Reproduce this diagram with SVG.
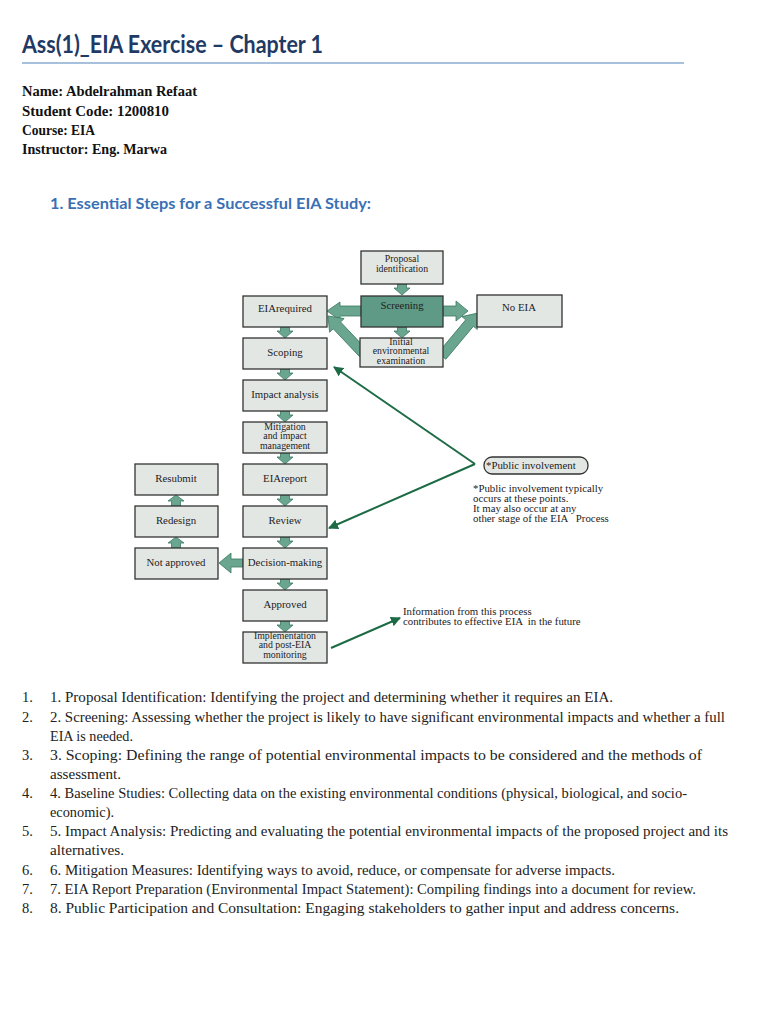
<svg xmlns="http://www.w3.org/2000/svg" width="768" height="1024" viewBox="0 0 768 1024">
<style>
.title{font-family:"Lato","Liberation Sans",sans-serif;font-weight:bold;font-size:24px;fill:#1f3a64}
.info{font-family:"Liberation Serif",serif;font-weight:bold;font-size:14px;fill:#111}
.head{font-family:"Lato","Liberation Sans",sans-serif;font-weight:bold;font-size:16px;fill:#3a70b4}
.li{font-family:"Liberation Serif",serif;font-size:14.5px;fill:#222}
.box{fill:#e2e7e4;stroke:#333;stroke-width:1.3}
.dark{fill:#5e9a85;stroke:#333;stroke-width:1.3}
.bt{font-family:"Liberation Serif",serif;font-size:10.8px;fill:#222;text-anchor:middle}
.bm{font-family:"Liberation Serif",serif;font-size:9.8px;fill:#222;text-anchor:middle}
.nt{font-family:"Liberation Serif",serif;font-size:10.8px;fill:#222}
.ba{fill:#6aa58f;stroke:#3b7a63;stroke-width:0.8}
.gl{stroke:#1d6b45;stroke-width:2;fill:none}
</style>
<defs>
<marker id="ah" viewBox="0 0 10 10" refX="9" refY="5" markerWidth="5" markerHeight="5" orient="auto" markerUnits="strokeWidth">
<path d="M0,0 L10,5 L0,10 Z" fill="#1d6b45"/>
</marker>
<path id="down" d="M-4.5,0 H4.5 V4 H8 L0,11 L-8,4 H-4.5 Z"/>
<path id="up" d="M-4.5,11 V6 H-8 L0,0 L8,6 H4.5 V11 Z"/>
</defs>
<rect width="768" height="1024" fill="#ffffff"/>

<text class="title" x="22" y="53" textLength="301" lengthAdjust="spacingAndGlyphs">Ass(1)_EIA Exercise – Chapter 1</text>
<line x1="22" y1="63" x2="684" y2="63" stroke="#4f81bd" stroke-width="1"/>
<text class="info" x="22" y="96" textLength="175" lengthAdjust="spacingAndGlyphs">Name: Abdelrahman Refaat</text>
<text class="info" x="22" y="116" textLength="147" lengthAdjust="spacingAndGlyphs">Student Code: 1200810</text>
<text class="info" x="22" y="135" textLength="73" lengthAdjust="spacingAndGlyphs">Course: EIA</text>
<text class="info" x="22" y="154" textLength="145" lengthAdjust="spacingAndGlyphs">Instructor: Eng. Marwa</text>
<text class="head" x="50" y="209" textLength="321" lengthAdjust="spacingAndGlyphs">1. Essential Steps for a Successful EIA Study:</text>

<g id="connectors">
<use href="#down" class="ba" x="402" y="284"/>
<use href="#down" class="ba" x="402" y="327"/>
<path class="ba" d="M361,306 H340 V302 L327,311 L340,320 V316 H361 Z"/>
<path class="ba" d="M443,306 H456 V301 L468,311 L456,321 V316 H443 Z"/>
<path class="ba" transform="translate(363,353) rotate(-133.4)" d="M0,-5 H38 V-10 L51,0 L38,10 V5 H0 Z"/>
<path class="ba" transform="translate(442,356) rotate(-50.1)" d="M0,-5 H43 V-10 L56,0 L43,10 V5 H0 Z"/>
<use href="#down" class="ba" x="285" y="327"/>
<use href="#down" class="ba" x="285" y="369"/>
<use href="#down" class="ba" x="285" y="411"/>
<use href="#down" class="ba" x="285" y="453"/>
<use href="#down" class="ba" x="285" y="495"/>
<use href="#down" class="ba" x="285" y="537"/>
<use href="#down" class="ba" x="285" y="579"/>
<use href="#down" class="ba" x="285" y="621"/>
<use href="#up" class="ba" x="176" y="495"/>
<use href="#up" class="ba" x="176" y="537"/>
<path class="ba" d="M243,559 H231 V553 L219,563 L231,573 V567 H243 Z"/>
<line class="gl" x1="475" y1="464" x2="334" y2="367" marker-end="url(#ah)"/>
<line class="gl" x1="475" y1="464" x2="329" y2="528" marker-end="url(#ah)"/>
<line class="gl" x1="331" y1="648" x2="400" y2="618" marker-end="url(#ah)"/>
</g>

<g id="proposal"><rect class="box" x="361" y="251" width="82" height="33"/><text class="bm" x="402" y="262">Proposal</text><text class="bm" x="402" y="272">identification</text></g>
<g id="screening"><rect class="dark" x="361" y="296" width="82" height="31"/><text class="bt" x="402" y="309">Screening</text></g>
<g id="eia-required"><rect class="box" x="243" y="296" width="84" height="31"/><text class="bt" x="285" y="312">EIArequired</text></g>
<g id="no-eia"><rect class="box" x="477" y="295" width="85" height="32"/><text class="bt" x="519" y="311">No EIA</text></g>
<g id="initial"><rect class="box" x="360" y="338" width="83" height="29"/><text class="bm" x="401" y="344.5">Initial</text><text class="bm" x="401" y="354">environmental</text><text class="bm" x="401" y="363.5">examination</text></g>
<g id="scoping"><rect class="box" x="243" y="338" width="84" height="31"/><text class="bt" x="285" y="356">Scoping</text></g>
<g id="impact"><rect class="box" x="243" y="380" width="84" height="31"/><text class="bt" x="285" y="398">Impact analysis</text></g>
<g id="mitigation"><rect class="box" x="243" y="422" width="84" height="31"/><text class="bm" x="285" y="429.5">Mitigation</text><text class="bm" x="285" y="439">and impact</text><text class="bm" x="285" y="448.5">management</text></g>
<g id="eia-report"><rect class="box" x="243" y="464" width="84" height="31"/><text class="bt" x="285" y="482">EIAreport</text></g>
<g id="review"><rect class="box" x="243" y="506" width="84" height="31"/><text class="bt" x="285" y="524">Review</text></g>
<g id="decision"><rect class="box" x="243" y="548" width="84" height="31"/><text class="bt" x="285" y="566">Decision-making</text></g>
<g id="approved"><rect class="box" x="243" y="590" width="84" height="31"/><text class="bt" x="285" y="608">Approved</text></g>
<g id="implementation"><rect class="box" x="243" y="632" width="84" height="31"/><text class="bm" x="285" y="638.5">Implementation</text><text class="bm" x="285" y="648">and post-EIA</text><text class="bm" x="285" y="657.5">monitoring</text></g>
<g id="resubmit"><rect class="box" x="135" y="464" width="83" height="31"/><text class="bt" x="176" y="482">Resubmit</text></g>
<g id="redesign"><rect class="box" x="135" y="506" width="83" height="31"/><text class="bt" x="176" y="524">Redesign</text></g>
<g id="not-approved"><rect class="box" x="135" y="548" width="83" height="31"/><text class="bt" x="176" y="566">Not approved</text></g>
<g id="public"><rect class="box" x="484" y="457" width="104" height="17" rx="8"/><text class="nt" x="486" y="469">*Public involvement</text></g>

<g id="notes">
<text class="nt" x="473" y="492">*Public involvement typically</text>
<text class="nt" x="473" y="502">occurs at these points.</text>
<text class="nt" x="473" y="512">It may also occur at any</text>
<text class="nt" x="473" y="522" xml:space="preserve">other stage of the EIA   Process</text>
<text class="nt" x="403" y="615">Information from this process</text>
<text class="nt" x="403" y="625" xml:space="preserve">contributes to effective EIA  in the future</text>
</g>

<g id="list">
<text class="li" x="22" y="702">1.</text><text class="li" x="50" y="702" textLength="563" lengthAdjust="spacingAndGlyphs">1. Proposal Identification: Identifying the project and determining whether it requires an EIA.</text>
<text class="li" x="22" y="722">2.</text><text class="li" x="50" y="722" textLength="675" lengthAdjust="spacingAndGlyphs">2. Screening: Assessing whether the project is likely to have significant environmental impacts and whether a full</text>
<text class="li" x="50" y="741" textLength="83" lengthAdjust="spacingAndGlyphs">EIA is needed.</text>
<text class="li" x="22" y="760">3.</text><text class="li" x="50" y="760" textLength="652" lengthAdjust="spacingAndGlyphs">3. Scoping: Defining the range of potential environmental impacts to be considered and the methods of</text>
<text class="li" x="50" y="779" textLength="71" lengthAdjust="spacingAndGlyphs">assessment.</text>
<text class="li" x="22" y="798">4.</text><text class="li" x="50" y="798" textLength="637" lengthAdjust="spacingAndGlyphs">4. Baseline Studies: Collecting data on the existing environmental conditions (physical, biological, and socio-</text>
<text class="li" x="50" y="817" textLength="64" lengthAdjust="spacingAndGlyphs">economic).</text>
<text class="li" x="22" y="836">5.</text><text class="li" x="50" y="836" textLength="678" lengthAdjust="spacingAndGlyphs">5. Impact Analysis: Predicting and evaluating the potential environmental impacts of the proposed project and its</text>
<text class="li" x="50" y="855" textLength="74" lengthAdjust="spacingAndGlyphs">alternatives.</text>
<text class="li" x="22" y="875">6.</text><text class="li" x="50" y="875" textLength="565" lengthAdjust="spacingAndGlyphs">6. Mitigation Measures: Identifying ways to avoid, reduce, or compensate for adverse impacts.</text>
<text class="li" x="22" y="894">7.</text><text class="li" x="50" y="894" textLength="646" lengthAdjust="spacingAndGlyphs">7. EIA Report Preparation (Environmental Impact Statement): Compiling findings into a document for review.</text>
<text class="li" x="22" y="913">8.</text><text class="li" x="50" y="913" textLength="629" lengthAdjust="spacingAndGlyphs">8. Public Participation and Consultation: Engaging stakeholders to gather input and address concerns.</text>
</g>
</svg>
